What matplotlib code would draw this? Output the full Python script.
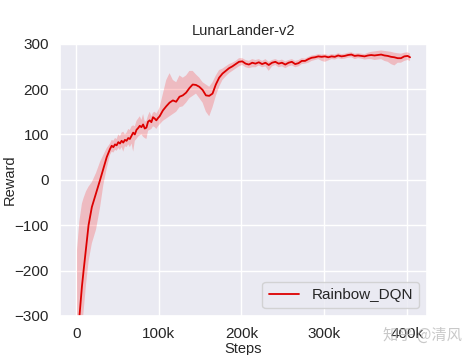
import matplotlib
matplotlib.use("Agg")
import matplotlib.pyplot as plt
import seaborn as sns
from matplotlib.ticker import FuncFormatter

# values (steps in thousands)
steps_k = [1, 4, 7, 9, 12, 15, 19, 24, 29, 33, 37, 41,
           43, 45, 47, 49, 51, 53, 55, 57, 59, 61, 63, 65, 67, 69, 71, 73, 75,
           77, 79, 81, 83, 85, 87, 89, 91, 93, 95, 97, 99,
           101, 105, 109, 113, 117, 121, 125, 129, 133, 137, 141, 145, 149,
           153, 157, 161, 165, 169, 173, 177, 181, 185, 189, 193, 197,
           201, 205, 209, 213, 217, 221, 225, 229, 233, 237, 241, 245, 249,
           253, 257, 261, 265, 269, 273, 277, 281, 285, 289, 293, 297,
           301, 305, 309, 313, 317, 321, 325, 329, 333, 337, 341, 345, 349,
           353, 357, 361, 365, 369, 373, 377, 381, 385, 389, 393, 397, 401, 404]
reward_mean = [-420, -300, -235, -200, -150, -100, -60, -30, 0, 25, 50, 68,
               75, 72, 78, 76, 83, 80, 86, 82, 88, 86, 92, 90, 97, 104, 100, 110, 114,
               119, 116, 122, 113, 115, 128, 131, 127, 138, 135, 131, 136,
               140, 153, 162, 170, 175, 172, 183, 186, 192, 202, 210, 209, 205,
               198, 186, 185, 190, 210, 225, 234, 240, 246, 250, 255, 260,
               261, 256, 254, 258, 256, 259, 255, 258, 253, 258, 260, 256, 258,
               254, 258, 260, 255, 257, 262, 262, 266, 269, 270, 272, 271,
               272, 270, 272, 271, 274, 272, 273, 275, 276, 273, 274, 273, 272,
               274, 275, 274, 275, 276, 274, 273, 271, 270, 268, 268, 272, 273, 270]
reward_lo = [-600, -450, -330, -290, -230, -180, -140, -110, -60, -10, 25, 55,
             62, 60, 66, 64, 70, 66, 72, 62, 74, 72, 78, 72, 80, 62, 86, 90, 95,
             98, 100, 95, 92, 90, 108, 110, 112, 118, 116, 112, 118,
             122, 130, 135, 140, 145, 150, 160, 162, 170, 180, 185, 190, 180,
             170, 150, 140, 160, 185, 205, 220, 228, 235, 240, 245, 250,
             253, 248, 246, 248, 248, 252, 248, 250, 240, 250, 253, 248, 250,
             246, 250, 252, 248, 250, 255, 256, 258, 262, 264, 266, 262,
             260, 263, 266, 265, 268, 266, 267, 269, 270, 266, 268, 267, 265,
             266, 266, 264, 265, 266, 262, 260, 255, 252, 258, 258, 262, 264, 262]
reward_hi = [-155, -90, -52, -40, -25, -15, -5, 15, 40, 55, 70, 80,
             88, 86, 92, 90, 100, 96, 104, 106, 100, 104, 112, 110, 118, 120, 118, 130, 135,
             140, 132, 145, 128, 130, 142, 150, 140, 148, 150, 146, 152,
             160, 190, 220, 235, 220, 215, 230, 225, 230, 240, 240, 232, 225,
             215, 210, 205, 215, 230, 242, 245, 250, 255, 258, 262, 268,
             268, 264, 262, 266, 264, 266, 262, 266, 260, 264, 266, 263, 265,
             261, 264, 266, 262, 264, 268, 267, 271, 274, 275, 277, 276,
             277, 275, 277, 276, 279, 277, 278, 280, 281, 278, 279, 278, 277,
             280, 282, 283, 284, 285, 284, 283, 282, 280, 279, 278, 280, 281, 278]
xtick_k = [0, 100, 200, 300, 400]

sns.set_theme(style="darkgrid")
plt.rcParams["font.family"] = ["Liberation Sans", "DejaVu Sans"]

steps = [s * 1000 for s in steps_k]

fig = plt.figure(figsize=(4.74, 3.55), dpi=100)
ax = fig.add_axes([0.127, 0.110, 0.773, 0.767])
ax.fill_between(steps, reward_lo, reward_hi, color="red", alpha=0.2, linewidth=0)
ax.plot(steps, reward_mean, color="#dd0000", linewidth=1.3, label="Rainbow_DQN")

ax.set_xlim(-19300, 424000)
ax.set_ylim(-300, 300)
ax.set_xticks([k * 1000 for k in xtick_k])
ax.xaxis.set_major_formatter(FuncFormatter(lambda v, p: "0" if v == 0 else f"{int(v / 1000)}k"))
ax.tick_params(labelsize=11, pad=2)
ax.set_title("LunarLander-v2", fontsize=10.5, pad=6)
ax.set_xlabel("Steps", fontsize=10.5, labelpad=1)
ax.set_ylabel("Reward", fontsize=10.5)
ax.yaxis.set_label_coords(-0.118, 0.5)
ax.legend(loc="lower right", fontsize=11, handlelength=2.0)

fig.text(0.975, 0.056, "知乎 @清风", ha="right", va="center", fontsize=11,
         color="#bbbbbb", alpha=0.8, family=["Noto Sans CJK SC", "DejaVu Sans"])

fig.savefig("out.png", dpi=100)
